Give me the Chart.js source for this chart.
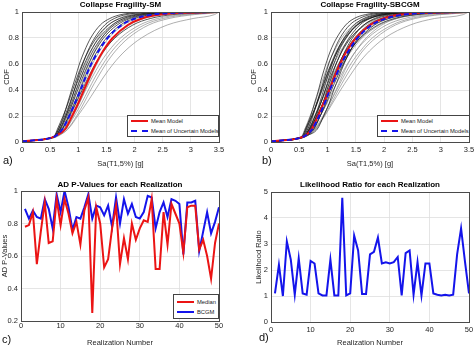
<!DOCTYPE html>
<html>
<head>
<meta charset="utf-8">
<script src="https://cdn.jsdelivr.net/npm/chart.js@4.4.1/dist/chart.umd.min.js"></script>
<style>
  html, body { margin: 0; padding: 0; background: #fff; }
  body { position: relative; width: 474px; height: 347px; overflow: hidden;
         font-family: 'Liberation Sans', Arial, sans-serif; color: #111; }
  canvas { position: absolute; }
  .tag { position: absolute; font-size: 11px; line-height: 13px; }
  .leg { position: absolute; background: #fff; border: 1px solid #444; box-sizing: border-box;
         font-size: 5.8px; line-height: 10px; color: #222; }
  .leg div { white-space: nowrap; }
  .leg span { display: inline-block; vertical-align: middle; width: 17px; margin: 0 3px 1px 3px; }
</style>
</head>
<body>
<canvas id="chartSM" width="237" height="172" style="left:0;top:0;width:237px;height:172px"></canvas>
<canvas id="chartSBCGM" width="245" height="172" style="left:237px;top:0;width:245px;height:172px"></canvas>
<canvas id="chartAD" width="237" height="175" style="left:0;top:172px;width:237px;height:175px"></canvas>
<canvas id="chartLR" width="245" height="175" style="left:237px;top:172px;width:245px;height:175px"></canvas>

<div class="leg" style="left:127px;top:115px;width:92px;height:22px">
  <div><span style="border-top:2px solid rgb(235,20,20)"></span>Mean Model</div>
  <div><span style="border-top:2px dashed rgb(20,20,235)"></span>Mean of Uncertain Models</div>
</div>
<div class="leg" style="left:377px;top:115px;width:93px;height:22px">
  <div><span style="border-top:2px solid rgb(235,20,20)"></span>Mean Model</div>
  <div><span style="border-top:2px dashed rgb(20,20,235)"></span>Mean of Uncertain Models</div>
</div>
<div class="leg" style="left:173px;top:294px;width:46px;height:25px;padding-top:2px">
  <div><span style="border-top:2px solid rgb(235,20,20)"></span>Median</div>
  <div><span style="border-top:2px solid rgb(20,20,235)"></span>BCGM</div>
</div>

<div class="tag" style="left:3px;top:154px">a)</div>
<div class="tag" style="left:262px;top:154px">b)</div>
<div class="tag" style="left:2px;top:333px">c)</div>
<div class="tag" style="left:259px;top:331px">d)</div>

<script>
// CDF levels shared by every fragility curve; curves are the Sa [g] where each level is reached
const cdfLevels = [0.005, 0.03, 0.05, 0.1, 0.2, 0.3, 0.4, 0.5, 0.6, 0.7, 0.8, 0.9, 0.95, 0.98, 0.995, 1];

// panel a) SM
const smMeanModel = [0, 0.5, 0.61, 0.77, 0.89, 1.00, 1.10, 1.20, 1.31, 1.44, 1.61, 1.88, 2.13, 2.46, 2.95, 3.5];
const smMeanUncertain = [0, 0.5, 0.61, 0.72, 0.84, 0.94, 1.04, 1.13, 1.23, 1.36, 1.52, 1.77, 2.01, 2.32, 2.78, 3.5];
const smCurvesDark = [
  [0, 0.48, 0.58, 0.65, 0.74, 0.81, 0.88, 0.95, 1.02, 1.11, 1.22, 1.39, 1.56, 1.76, 2.06, 3.5],
  [0, 0.5, 0.6, 0.68, 0.78, 0.86, 0.93, 1.00, 1.08, 1.17, 1.29, 1.47, 1.64, 1.85, 2.17, 3.5],
  [0, 0.49, 0.59, 0.65, 0.76, 0.85, 0.93, 1.02, 1.11, 1.22, 1.37, 1.60, 1.81, 2.09, 2.51, 3.5],
  [0, 0.48, 0.58, 0.63, 0.73, 0.82, 0.90, 0.98, 1.07, 1.18, 1.32, 1.53, 1.74, 2.01, 2.41, 3.5],
  [0, 0.5, 0.6, 0.67, 0.78, 0.88, 0.96, 1.05, 1.15, 1.26, 1.41, 1.64, 1.87, 2.15, 2.58, 3.5],
  [0, 0.5, 0.6, 0.69, 0.80, 0.90, 0.99, 1.08, 1.18, 1.30, 1.45, 1.69, 1.92, 2.21, 2.66, 3.5],
  [0, 0.5, 0.61, 0.72, 0.83, 0.93, 1.03, 1.12, 1.22, 1.34, 1.50, 1.75, 1.99, 2.29, 2.76, 3.5],
  [0, 0.5, 0.61, 0.71, 0.84, 0.96, 1.07, 1.18, 1.30, 1.45, 1.65, 1.97, 2.28, 2.68, 3.30, 3.5]
];
const smCurvesLight = [
  [0, 0.5, 0.6, 0.72, 0.82, 0.90, 0.97, 1.05, 1.13, 1.23, 1.35, 1.54, 1.72, 1.94, 2.27, 3.5],
  [0, 0.52, 0.62, 0.75, 0.85, 0.94, 1.02, 1.10, 1.19, 1.29, 1.42, 1.61, 1.80, 2.04, 2.38, 3.5],
  [0, 0.52, 0.62, 0.73, 0.86, 0.96, 1.05, 1.15, 1.25, 1.38, 1.54, 1.80, 2.05, 2.36, 2.83, 3.5],
  [0, 0.52, 0.63, 0.78, 0.91, 1.02, 1.12, 1.22, 1.33, 1.46, 1.64, 1.91, 2.17, 2.50, 3.00, 3.5],
  [0, 0.52, 0.63, 0.75, 0.89, 1.02, 1.13, 1.25, 1.38, 1.54, 1.75, 2.09, 2.41, 2.84, 3.35, 3.5],
  [0, 0.53, 0.64, 0.78, 0.93, 1.06, 1.18, 1.30, 1.44, 1.60, 1.82, 2.17, 2.51, 2.95, 3.42, 3.5],
  [0, 0.54, 0.65, 0.81, 0.97, 1.10, 1.22, 1.35, 1.49, 1.66, 1.89, 2.25, 2.61, 3.06, 3.45, 3.5],
  [0, 0.55, 0.66, 0.82, 0.99, 1.15, 1.30, 1.45, 1.62, 1.83, 2.12, 2.58, 3.04, 3.42, 3.48, 3.5]
];

// panel b) SBCGM
const sbMeanModel = [0, 0.5, 0.61, 0.72, 0.83, 0.93, 1.03, 1.12, 1.22, 1.34, 1.50, 1.75, 1.99, 2.29, 2.76, 3.5];
const sbMeanUncertain = [0, 0.5, 0.61, 0.73, 0.85, 0.95, 1.04, 1.14, 1.24, 1.37, 1.53, 1.78, 2.03, 2.34, 2.80, 3.5];
const sbCurvesDark = [
  [0, 0.46, 0.56, 0.61, 0.70, 0.77, 0.84, 0.90, 0.97, 1.05, 1.16, 1.32, 1.47, 1.67, 1.95, 3.5],
  [0, 0.48, 0.58, 0.65, 0.74, 0.81, 0.88, 0.95, 1.02, 1.11, 1.22, 1.39, 1.56, 1.76, 2.06, 3.5],
  [0, 0.48, 0.57, 0.62, 0.72, 0.81, 0.89, 0.97, 1.06, 1.16, 1.30, 1.52, 1.73, 1.99, 2.39, 3.5],
  [0, 0.5, 0.6, 0.68, 0.78, 0.86, 0.93, 1.00, 1.08, 1.17, 1.29, 1.47, 1.64, 1.85, 2.17, 3.5],
  [0, 0.5, 0.6, 0.70, 0.80, 0.88, 0.96, 1.03, 1.11, 1.20, 1.33, 1.51, 1.69, 1.91, 2.23, 3.5],
  [0, 0.5, 0.6, 0.67, 0.78, 0.88, 0.96, 1.05, 1.15, 1.26, 1.41, 1.64, 1.87, 2.15, 2.58, 3.5],
  [0, 0.5, 0.6, 0.73, 0.83, 0.92, 0.99, 1.07, 1.15, 1.25, 1.38, 1.57, 1.75, 1.98, 2.32, 3.5],
  [0, 0.5, 0.6, 0.70, 0.82, 0.92, 1.01, 1.10, 1.20, 1.32, 1.48, 1.72, 1.96, 2.25, 2.71, 3.5],
  [0, 0.52, 0.62, 0.76, 0.87, 0.96, 1.04, 1.12, 1.21, 1.31, 1.44, 1.64, 1.83, 2.07, 2.43, 3.5],
  [0, 0.52, 0.62, 0.75, 0.87, 0.98, 1.07, 1.17, 1.28, 1.40, 1.57, 1.83, 2.08, 2.40, 2.88, 3.5],
  [0, 0.53, 0.64, 0.82, 0.93, 1.03, 1.11, 1.20, 1.29, 1.40, 1.54, 1.76, 1.97, 2.22, 2.60, 3.5],
  [0, 0.48, 0.58, 0.63, 0.73, 0.82, 0.90, 0.98, 1.07, 1.18, 1.32, 1.53, 1.74, 2.01, 2.41, 3.5],
  [0, 0.5, 0.6, 0.68, 0.81, 0.92, 1.02, 1.13, 1.25, 1.39, 1.58, 1.89, 2.18, 2.57, 3.16, 3.5]
];
const sbCurvesLight = [
  [0, 0.46, 0.55, 0.60, 0.69, 0.78, 0.85, 0.93, 1.01, 1.12, 1.25, 1.46, 1.65, 1.91, 2.29, 3.5],
  [0, 0.48, 0.56, 0.60, 0.72, 0.81, 0.91, 1.00, 1.11, 1.23, 1.40, 1.67, 1.93, 2.27, 2.80, 3.5],
  [0, 0.5, 0.6, 0.65, 0.77, 0.88, 0.98, 1.08, 1.19, 1.33, 1.51, 1.80, 2.09, 2.45, 3.02, 3.5],
  [0, 0.5, 0.6, 0.69, 0.82, 0.93, 1.04, 1.15, 1.27, 1.42, 1.61, 1.92, 2.22, 2.61, 3.22, 3.5],
  [0, 0.52, 0.63, 0.73, 0.87, 0.99, 1.10, 1.22, 1.35, 1.50, 1.71, 2.04, 2.36, 2.77, 3.40, 3.5],
  [0, 0.53, 0.64, 0.80, 0.93, 1.04, 1.15, 1.25, 1.36, 1.50, 1.68, 1.96, 2.22, 2.56, 3.08, 3.5],
  [0, 0.53, 0.64, 0.77, 0.92, 1.04, 1.16, 1.28, 1.41, 1.58, 1.79, 2.14, 2.47, 2.91, 3.42, 3.5],
  [0, 0.54, 0.65, 0.79, 0.94, 1.07, 1.19, 1.32, 1.46, 1.62, 1.85, 2.20, 2.55, 3.00, 3.44, 3.5],
  [0, 0.54, 0.65, 0.78, 0.95, 1.09, 1.23, 1.38, 1.54, 1.74, 2.01, 2.46, 2.89, 3.40, 3.47, 3.5]
];

// panels c) and d)
const realizationNo = Array.from({ length: 50 }, (_, i) => i + 1);
const adMedian = [0.78, 0.79, 0.87, 0.55, 0.75, 0.93, 0.68, 0.69, 0.95, 0.79,
                  0.95, 0.86, 0.74, 0.81, 0.67, 0.88, 0.96, 0.25, 0.90, 0.80,
                  0.53, 0.58, 0.77, 0.91, 0.55, 0.71, 0.58, 0.80, 0.70, 0.77,
                  0.82, 0.81, 0.95, 0.52, 0.52, 0.87, 0.67, 0.92, 0.86, 0.80,
                  0.62, 0.90, 0.91, 0.91, 0.64, 0.70, 0.60, 0.46, 0.68, 0.80];
const adBCGM = [0.89, 0.83, 0.88, 0.84, 0.83, 0.95, 0.89, 0.77, 0.98, 0.87,
                1.00, 0.90, 0.76, 0.84, 0.83, 0.90, 0.98, 0.83, 0.91, 0.90,
                0.85, 0.91, 0.78, 0.96, 0.80, 0.95, 0.86, 0.92, 0.84, 0.83,
                0.87, 0.97, 0.96, 0.77, 0.87, 0.93, 0.84, 0.95, 0.94, 0.92,
                0.61, 0.93, 0.93, 0.94, 0.63, 0.75, 0.87, 0.74, 0.81, 0.90];
const likelihoodRatio = [1.1, 2.2, 1.0, 3.1, 2.4, 1.05, 2.45, 1.1, 1.05, 2.35,
                         2.25, 1.1, 1.02, 1.02, 2.4, 1.02, 1.02, 4.78, 1.02, 1.1,
                         3.32, 2.75, 1.08, 1.08, 2.6, 2.7, 3.25, 2.25, 2.3, 2.25,
                         2.3, 2.5, 1.02, 2.65, 2.75, 1.05, 2.3, 1.02, 2.25, 2.25,
                         1.1, 1.05, 1.02, 1.05, 1.02, 1.05, 2.6, 3.6, 2.3, 1.1];

// tick labels
const saTicks = [0, 0.5, 1, 1.5, 2, 2.5, 3, 3.5];
const cdfTicks = [0, 0.2, 0.4, 0.6, 0.8, 1];
const realizationTicks = [0, 10, 20, 30, 40, 50];
const pValueTicks = [0.2, 0.4, 0.6, 0.8, 1];
const ratioTicks = [0, 1, 2, 3, 4, 5];

const RED = 'rgb(235, 20, 20)';
const BLUE = 'rgb(20, 20, 235)';

Chart.defaults.font.family = "'Liberation Sans', Arial, sans-serif";
Chart.defaults.color = '#262626';

// frame around the axes, like matlab "box on"
const boxPlugin = {
  id: 'box',
  afterDraw(chart) {
    const { ctx, chartArea: a } = chart;
    ctx.save();
    ctx.strokeStyle = '#4a4a4a';
    ctx.lineWidth = 1;
    ctx.strokeRect(Math.round(a.left) + 0.5, Math.round(a.top) + 0.5,
                   Math.round(a.right - a.left), Math.round(a.bottom - a.top));
    ctx.restore();
  }
};

function fixedTicks(list) {
  return scale => { scale.ticks = list.map(v => ({ value: v })); };
}

function axis(min, max, ticks, title, size, titlePad, horizontal, tickPad) {
  return {
    type: 'linear',
    min: min,
    max: max,
    afterBuildTicks: fixedTicks(ticks),
    afterFit: s => { if (horizontal) s.height = size; else s.width = size; },
    ticks: { font: { size: 7.5 }, padding: tickPad, maxRotation: 0, autoSkip: false, callback: v => String(v) },
    grid: { color: '#dedede', lineWidth: 0.8, drawTicks: false },
    border: { display: false },
    title: { display: true, text: title, font: { size: 7.5 }, padding: horizontal ? { top: 0, bottom: titlePad } : { top: titlePad, bottom: 0 } }
  };
}

function baseOptions(title, titlePad, padRight, xAxis, yAxis) {
  return {
    responsive: false,
    animation: false,
    events: [],
    layout: { padding: { left: 0, right: padRight, top: 0, bottom: 0 } },
    elements: { point: { radius: 0 }, line: { fill: false } },
    plugins: {
      legend: { display: false },
      tooltip: { enabled: false },
      title: {
        display: true, text: title, color: '#000', fullSize: false,
        font: { size: 8, weight: 'bold', lineHeight: 1 },
        padding: titlePad
      }
    },
    scales: { x: xAxis, y: yAxis }
  };
}

// fragility curves panel
function cdfChart(id, title, dark, light, meanModel, meanUncertain, yWidth, yTitlePad, padRight) {
  const toPts = xs => xs.map((x, i) => ({ x: x, y: cdfLevels[i] }));
  const datasets = [
    { data: toPts(meanUncertain), borderColor: BLUE, borderWidth: 2, borderDash: [5, 3], cubicInterpolationMode: 'monotone' },
    { data: toPts(meanModel), borderColor: RED, borderWidth: 2, cubicInterpolationMode: 'monotone' }
  ];
  dark.forEach(xs => datasets.push({ data: toPts(xs), borderColor: '#111', borderWidth: 0.7, cubicInterpolationMode: 'monotone' }));
  light.forEach(xs => datasets.push({ data: toPts(xs), borderColor: '#8c8c8c', borderWidth: 0.7, cubicInterpolationMode: 'monotone' }));

  new Chart(document.getElementById(id), {
    type: 'line',
    data: { datasets: datasets },
    options: baseOptions(title, { top: 1, bottom: 3 }, padRight,
      axis(0, 3.5, saTicks, 'Sa(T1,5%) [g]', 30, 4, true, 3),
      axis(0, 1, cdfTicks, 'CDF', yWidth, yTitlePad, false, 3)),
    plugins: [boxPlugin]
  });
}

cdfChart('chartSM', 'Collapse Fragility-SM', smCurvesDark, smCurvesLight, smMeanModel, smMeanUncertain, 22, 2, 18);
cdfChart('chartSBCGM', 'Collapse Fragility-SBCGM', sbCurvesDark, sbCurvesLight, sbMeanModel, sbMeanUncertain, 34, 12, 13);

// AD p-values
const pts = vals => realizationNo.map((n, i) => ({ x: n, y: vals[i] }));

new Chart(document.getElementById('chartAD'), {
  type: 'line',
  data: {
    datasets: [
      { label: 'Median', data: pts(adMedian), borderColor: RED, borderWidth: 2, tension: 0 },
      { label: 'BCGM', data: pts(adBCGM), borderColor: BLUE, borderWidth: 2, tension: 0 }
    ]
  },
  options: baseOptions('AD P-Values for each Realization', { top: 9, bottom: 2 }, 18,
    axis(0, 50, realizationTicks, 'Realization Number', 26, 0, true, 0),
    axis(0.2, 1, pValueTicks, 'AD P-Values', 21, 0, false, 3)),
  plugins: [boxPlugin]
});

// likelihood ratio
new Chart(document.getElementById('chartLR'), {
  type: 'line',
  data: {
    datasets: [
      { label: 'Likelihood Ratio', data: pts(likelihoodRatio), borderColor: BLUE, borderWidth: 2, tension: 0 }
    ]
  },
  options: baseOptions('Likelihood Ratio for each Realization', { top: 9, bottom: 3 }, 13,
    axis(0, 50, realizationTicks, 'Realization Number', 25, 0, true, 3),
    axis(0, 5, ratioTicks, 'Likelihood Ratio', 34, 17, false, 3)),
  plugins: [boxPlugin]
});
</script>
</body>
</html>
